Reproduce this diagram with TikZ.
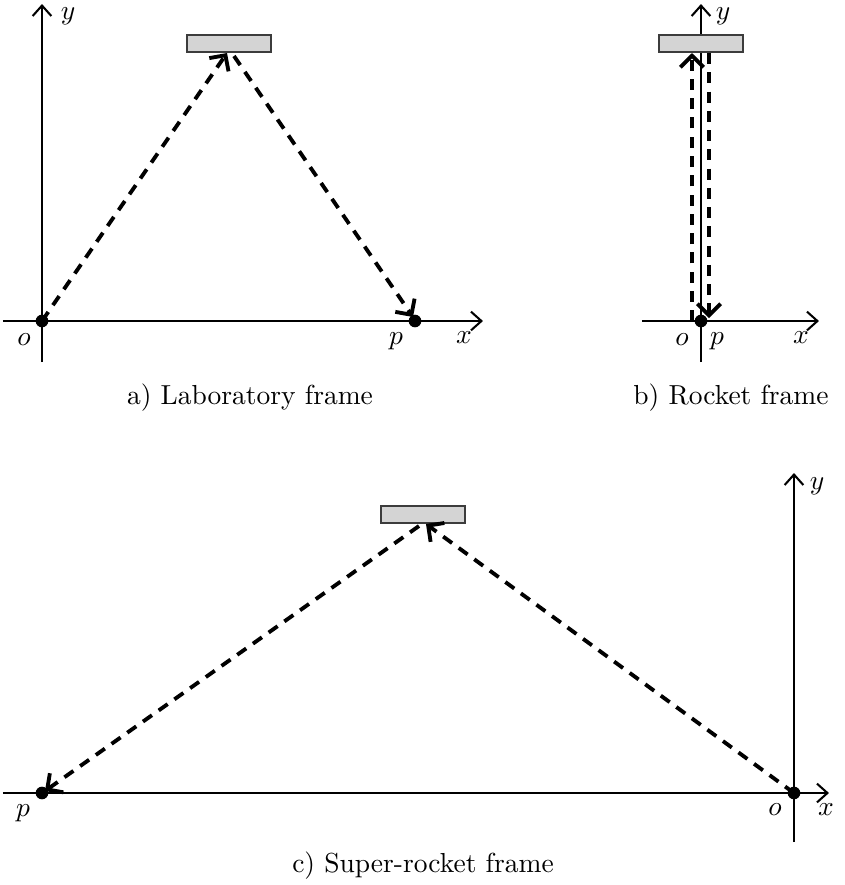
\documentclass[tikz,border=0pt]{standalone}
\usetikzlibrary{arrows.meta}
\definecolor{mirrorgray}{RGB}{212,212,212}
\definecolor{mirroredge}{RGB}{60,60,60}
\begin{document}
\begin{tikzpicture}[x=0.3636pt,y=-0.3636pt,
  axisline/.style={line width=0.75pt,-{Straight Barb[length=3.8pt,width=6.8pt,line width=0.75pt]}},
  rayline/.style={line width=1.4pt,dash pattern=on 4pt off 3pt,-{Straight Barb[length=4.2pt,width=8.5pt,line width=1.4pt]}},
  dotnode/.style={circle,fill=black,inner sep=0pt,minimum size=4.6pt},
  mirrorbox/.style={draw=mirroredge,fill=mirrorgray,line width=0.5pt,minimum width=30.5pt,minimum height=6.2pt,inner sep=0pt},
  labtext/.style={inner sep=0pt},
  captext/.style={inner sep=0pt,font=\normalsize}]
\useasboundingbox (0,0) rectangle (845,885);
% ---------- panel a ----------
\coordinate (ayb) at (42,362);
\coordinate (ayt) at (42,4);
\coordinate (axl) at (3,321);
\coordinate (axr) at (483,321);
\draw[axisline] (ayb) -- (ayt);
\draw[axisline] (axl) -- (axr);
\node[mirrorbox] (am) at (229,43.5) {};
\node[dotnode] (ao) at (42,321) {};
\node[dotnode] (ap) at (415,321) {};
\coordinate (amin) at (227,53);
\coordinate (amout) at (234,56);
\coordinate (apin) at (413,317);
\draw[rayline] (ao.center) -- (amin);
\draw[rayline] (amout) -- (apin);
\node[labtext] (aylab) at (68,16) {$y$};
\node[labtext] (aolab) at (24,340) {$o$};
\node[labtext] (aplab) at (396,341) {$p$};
\node[labtext] (axlab) at (464,338) {$x$};
\node[captext] (acap) at (250,398) {a) Laboratory frame};
% ---------- panel b ----------
\coordinate (byb) at (701,362);
\coordinate (byt) at (701,4);
\coordinate (bxl) at (642,321);
\coordinate (bxr) at (819,321);
\draw[axisline] (byb) -- (byt);
\draw[axisline] (bxl) -- (bxr);
\node[mirrorbox] (bm) at (701,43.5) {};
\node[dotnode] (bo) at (701,321) {};
\coordinate (bup0) at (692,321);
\coordinate (bup1) at (692,53);
\coordinate (bdn0) at (709,53);
\coordinate (bdn1) at (709,318);
\draw[rayline] (bup0) -- (bup1);
\draw[rayline] (bdn0) -- (bdn1);
\node[labtext] (bylab) at (723,16) {$y$};
\node[labtext] (bolab) at (682,340) {$o$};
\node[labtext] (bplab) at (717,341) {$p$};
\node[labtext] (bxlab) at (801,338) {$x$};
\node[captext] (bcap) at (731,398) {b) Rocket frame};
% ---------- panel c ----------
\coordinate (cyb) at (794,842);
\coordinate (cyt) at (794,473);
\coordinate (cxl) at (3,793);
\coordinate (cxr) at (829,793);
\draw[axisline] (cyb) -- (cyt);
\draw[axisline] (cxl) -- (cxr);
\node[mirrorbox] (cm) at (423,514.5) {};
\node[dotnode] (co) at (794,793) {};
\node[dotnode] (cp) at (42,793) {};
\coordinate (cmin) at (426,524);
\coordinate (cmout) at (419,526);
\coordinate (cpin) at (45,791);
\draw[rayline] (co.center) -- (cmin);
\draw[rayline] (cmout) -- (cpin);
\node[labtext] (cylab) at (817,486) {$y$};
\node[labtext] (colab) at (775,810) {$o$};
\node[labtext] (cplab) at (23,813) {$p$};
\node[labtext] (cxlab) at (826,810) {$x$};
\node[captext] (ccap) at (423,866) {c) Super-rocket frame};
\end{tikzpicture}
\end{document}
